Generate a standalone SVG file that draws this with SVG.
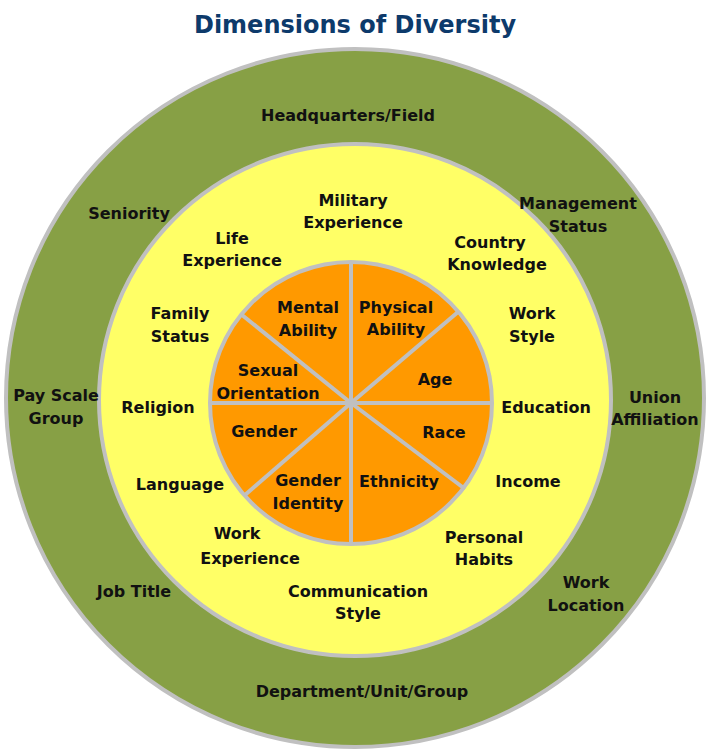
<svg xmlns="http://www.w3.org/2000/svg" width="711" height="750" viewBox="0 0 711 750">
<style>
text{font-family:"DejaVu Sans",Verdana,sans-serif;font-weight:bold;font-size:16px;fill:#111;text-anchor:middle}
.ring{stroke:#c0c0c0;stroke-width:4}
.div{stroke:#c0c0c0;stroke-width:4}
</style>
<rect width="711" height="750" fill="#fff"/>
<text x="355" y="33" style="font-size:24px;fill:#0d3a6b">Dimensions of Diversity</text>
<g id="outer"><circle class="ring" cx="355" cy="398" r="349" fill="#87a045"/></g>
<g id="middle"><circle class="ring" cx="355" cy="400" r="256" fill="#ffff66"/></g>
<g id="inner"><circle class="ring" cx="351" cy="403" r="141" fill="#ff9900"/></g>
<g id="connectors">
<line class="div" x1="351" y1="262" x2="351" y2="544"/>
<line class="div" x1="210" y1="403" x2="492" y2="403"/>
<line class="div" x1="351" y1="403" x2="458" y2="312"/>
<line class="div" x1="351" y1="403" x2="242" y2="315"/>
<line class="div" x1="351" y1="403" x2="465" y2="489"/>
<line class="div" x1="351" y1="403" x2="245" y2="495"/>
</g>
<g id="inner-labels">
<text x="308" y="313">Mental</text><text x="308" y="336">Ability</text>
<text x="396" y="313">Physical</text><text x="396" y="335">Ability</text>
<text x="435" y="385">Age</text>
<text x="268" y="376">Sexual</text><text x="268" y="399">Orientation</text>
<text x="264" y="437">Gender</text>
<text x="444" y="438">Race</text>
<text x="308" y="486">Gender</text><text x="308" y="509">Identity</text>
<text x="399" y="487">Ethnicity</text>
</g>
<g id="middle-labels">
<text x="353" y="206">Military</text><text x="353" y="228">Experience</text>
<text x="232" y="244">Life</text><text x="232" y="266">Experience</text>
<text x="490" y="248">Country</text><text x="497" y="270">Knowledge</text>
<text x="180" y="319">Family</text><text x="180" y="342">Status</text>
<text x="532" y="319">Work</text><text x="532" y="342">Style</text>
<text x="158" y="413">Religion</text>
<text x="546" y="413">Education</text>
<text x="180" y="490">Language</text>
<text x="528" y="487">Income</text>
<text x="237" y="539">Work</text><text x="250" y="564">Experience</text>
<text x="484" y="543">Personal</text><text x="484" y="565">Habits</text>
<text x="358" y="597">Communication</text><text x="358" y="619">Style</text>
</g>
<g id="outer-labels">
<text x="348" y="121">Headquarters/Field</text>
<text x="129" y="219">Seniority</text>
<text x="578" y="209">Management</text><text x="578" y="232">Status</text>
<text x="56" y="401">Pay Scale</text><text x="56" y="424">Group</text>
<text x="655" y="403">Union</text><text x="655" y="425">Affiliation</text>
<text x="134" y="597">Job Title</text>
<text x="586" y="588">Work</text><text x="586" y="611">Location</text>
<text x="362" y="697">Department/Unit/Group</text>
</g>
</svg>
